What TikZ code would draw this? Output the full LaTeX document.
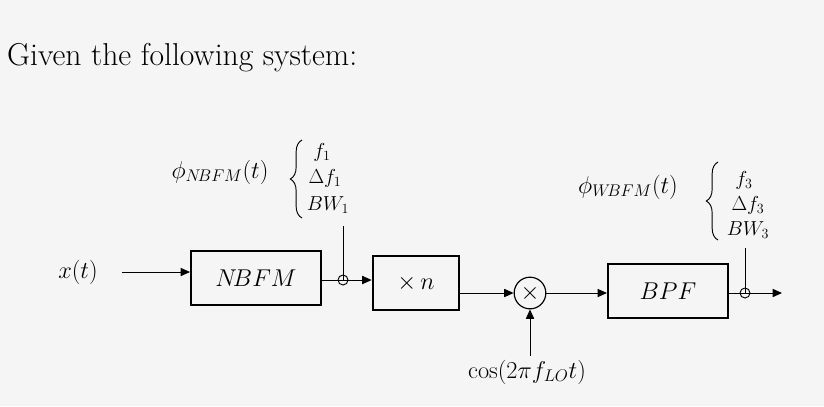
\documentclass[tikz,border=0pt]{standalone}
\usetikzlibrary{arrows.meta,decorations.pathreplacing}
\begin{document}
\begin{tikzpicture}[x=0.03cm,y=-0.03cm,
 blk/.style={draw,line width=1.8pt,minimum height=1.6cm},
 ar/.style={-{Triangle[length=8pt,width=7pt]},line width=0.8pt},
 ln/.style={line width=0.8pt},
 lbl/.style={font=\fontsize{20}{23}\selectfont},
 sm/.style={font=\fontsize{17}{19}\selectfont,inner sep=1pt}]
\fill[gray!8] (0,0) rectangle (824,406);
\useasboundingbox (0,0) rectangle (824,406);
\node[anchor=west,font=\fontsize{27}{30}\selectfont] (title) at (3,58) {Given the following system:};
\node[lbl] (x) at (78,272) {$x(t)$};
\node[blk,minimum width=3.9cm] (nb) at (256,278) {\fontsize{20}{23}\selectfont$N\!BFM$};
\node[blk,minimum width=2.6cm] (xn) at (416,283) {\fontsize{20}{23}\selectfont$\times\, n$};
\node[draw,circle,line width=1pt,minimum size=0.95cm,inner sep=0pt,font=\fontsize{22}{24}\selectfont] (mx) at (530,293) {$\times$};
\node[blk,minimum width=3.6cm] (bp) at (668,291) {\fontsize{20}{23}\selectfont$BPF$};
\node[lbl] (cos) at (527,372) {$\cos(2\pi f_{LO}t)$};
\coordinate (j1) at (343,280);
\coordinate (t1) at (343,226);
\coordinate (j2) at (745,293);
\coordinate (t2) at (745,248);
\coordinate (e) at (782,293);
\coordinate (xs) at (122,272);
\draw[ar] (xs) -- (nb.west|-xs);
\draw[ln] (nb.east|-j1) -- (j1);
\draw[ar] (j1) -- (xn.west|-j1);
\draw[ln] (j1) -- (t1);
\draw[ln] (j1) circle (5);
\draw[ar] (xn.east|-mx) -- (mx.west);
\draw[ar] (cos.north-|mx) -- (mx.south);
\draw[ar] (mx.east) -- (bp.west|-mx);
\draw[ln] (bp.east|-j2) -- (j2);
\draw[ar] (j2) -- (e);
\draw[ln] (j2) -- (t2);
\draw[ln] (j2) circle (5);
\node[lbl] (pn) at (220,172) {$\phi_{N\!BFM}(t)$};
\draw[ln,decorate,decoration={brace,amplitude=10pt}] (302,218) -- (302,140);
\node[sm] (f1) at (322,152) {$f_1$};
\node[sm] (d1) at (325,178) {$\Delta f_1$};
\node[sm] (b1) at (328,205) {$BW_1$};
\node[lbl] (pw) at (628,187) {$\phi_{W\!BFM}(t)$};
\draw[ln,decorate,decoration={brace,amplitude=10pt}] (718,240) -- (718,162);
\node[sm] (f3) at (744,180) {$f_3$};
\node[sm] (d3) at (748,205) {$\Delta f_3$};
\node[sm] (b3) at (748,230) {$BW_3$};
\end{tikzpicture}
\end{document}
